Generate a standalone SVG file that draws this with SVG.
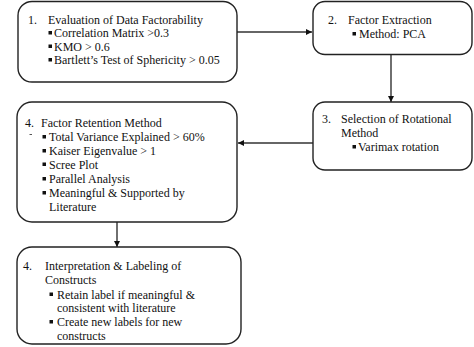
<svg xmlns="http://www.w3.org/2000/svg" width="474" height="347" viewBox="0 0 474 347">
<style>
.box{fill:#fff;stroke:#222;stroke-width:1.4}
.t{font-family:"Liberation Serif","Times New Roman",serif;font-size:12px;fill:#111}
.b{fill:#111}
.c{stroke:#333;stroke-width:1.4;fill:none}
</style>
<defs>
<marker id="ah" viewBox="0 0 10 10" refX="10" refY="5" markerWidth="6" markerHeight="6" markerUnits="userSpaceOnUse" orient="auto">
<path d="M0,0 L10,5 L0,10 z" fill="#111"/>
</marker>
</defs>
<rect width="474" height="347" fill="#fff"/>
<g id="connectors">
<line class="c" x1="237" y1="32" x2="312" y2="32" marker-end="url(#ah)"/>
<line class="c" x1="391" y1="55" x2="391" y2="102" marker-end="url(#ah)"/>
<line class="c" x1="313" y1="143" x2="238" y2="143" marker-end="url(#ah)"/>
<line class="c" x1="117" y1="222" x2="117" y2="247" marker-end="url(#ah)"/>
</g>
<g id="node1">
<rect class="box" x="18" y="1.5" width="219" height="80.5" rx="14"/>
<text class="t" x="28" y="23.5">1.</text>
<text class="t" x="48" y="23.5">Evaluation of Data Factorability</text>
<rect class="b" x="48.5" y="31" width="3.5" height="3.5"/>
<text class="t" x="54" y="37">Correlation Matrix &gt;0.3</text>
<rect class="b" x="48.5" y="44.5" width="3.5" height="3.5"/>
<text class="t" x="54" y="50.5">KMO &gt; 0.6</text>
<rect class="b" x="48.5" y="58" width="3.5" height="3.5"/>
<text class="t" x="54" y="64">Bartlett’s Test of Sphericity &gt; 0.05</text>
</g>
<g id="node2">
<rect class="box" x="313" y="1.5" width="159" height="53" rx="12"/>
<text class="t" x="328" y="24">2.</text>
<text class="t" x="348" y="24">Factor Extraction</text>
<rect class="b" x="352.5" y="32" width="3.5" height="3.5"/>
<text class="t" x="359" y="38">Method: PCA</text>
</g>
<g id="node3">
<rect class="box" x="313" y="102" width="159" height="68" rx="12"/>
<text class="t" x="322" y="123">3.</text>
<text class="t" x="341" y="123">Selection of Rotational</text>
<text class="t" x="341" y="137">Method</text>
<rect class="b" x="352.5" y="145" width="3.5" height="3.5"/>
<text class="t" x="358" y="151">Varimax rotation</text>
</g>
<g id="node4">
<rect class="box" x="17" y="102" width="220" height="120" rx="15"/>
<text class="t" x="25" y="127">4.</text>
<text class="t" x="41" y="127">Factor Retention Method</text>
<line x1="29.5" y1="134.5" x2="32" y2="134.5" stroke="#555" stroke-width="1"/>
<rect class="b" x="42.5" y="135" width="3.5" height="3.5"/>
<text class="t" x="49" y="141">Total Variance Explained &gt; 60%</text>
<rect class="b" x="42.5" y="149" width="3.5" height="3.5"/>
<text class="t" x="49" y="155">Kaiser Eigenvalue &gt; 1</text>
<rect class="b" x="42.5" y="162.5" width="3.5" height="3.5"/>
<text class="t" x="49" y="168.5">Scree Plot</text>
<rect class="b" x="42.5" y="177" width="3.5" height="3.5"/>
<text class="t" x="49" y="183">Parallel Analysis</text>
<rect class="b" x="42.5" y="191" width="3.5" height="3.5"/>
<text class="t" x="49" y="197">Meaningful &amp; Supported by</text>
<text class="t" x="49" y="211">Literature</text>
</g>
<g id="node5">
<rect class="box" x="17" y="247" width="224" height="97" rx="15"/>
<text class="t" x="23" y="270">4.</text>
<text class="t" x="45" y="270">Interpretation &amp; Labeling of</text>
<text class="t" x="45" y="283.5">Constructs</text>
<rect class="b" x="49.5" y="292.5" width="3.5" height="3.5"/>
<text class="t" x="57" y="298.5">Retain label if meaningful &amp;</text>
<text class="t" x="57" y="312">consistent with literature</text>
<rect class="b" x="49.5" y="320" width="3.5" height="3.5"/>
<text class="t" x="57" y="326">Create new labels for new</text>
<text class="t" x="57" y="340">constructs</text>
</g>
</svg>
